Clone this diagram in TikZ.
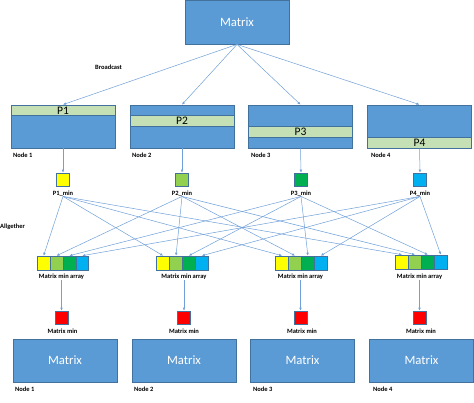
\documentclass[tikz,border=0pt]{standalone}
\usepackage{fontspec}
\setmainfont{Carlito}
\usepackage{tikz}
\usetikzlibrary{arrows.meta}
\definecolor{boxblue}{HTML}{5B9BD5}
\definecolor{boxedge}{HTML}{41719C}
\definecolor{bandgreen}{HTML}{C5E0B4}
\definecolor{linkblue}{HTML}{6FA0D8}
\definecolor{minyellow}{HTML}{FFFF00}
\definecolor{minlgreen}{HTML}{92D050}
\definecolor{mingreen}{HTML}{00B050}
\definecolor{minblue}{HTML}{00B0F0}
\definecolor{minred}{HTML}{FF0000}
\newcommand{\arw}{-{Latex[length=3pt,width=2.6pt]}}

\begin{document}
\begin{tikzpicture}[x=1pt,y=-1pt,
  mbox/.style={draw=boxedge,fill=boxblue,line width=.8pt,minimum width=104pt,minimum height=43pt,inner sep=0pt,text=white,font=\fontsize{12.7}{14}\selectfont},
  band/.style={draw=boxedge,fill=bandgreen,line width=.6pt,minimum width=104pt,minimum height=10.75pt,inner sep=0pt,font=\fontsize{11.5}{12}\selectfont},
  cell/.style={draw=boxedge,line width=.6pt,minimum width=12.9pt,minimum height=14pt,inner sep=0pt},
  tag/.style={font=\fontsize{6.5}{7}\selectfont\bfseries,inner sep=0pt},
  link/.style={draw=linkblue,line width=.5pt}]
\useasboundingbox (0,0) rectangle (474,403);
%broadcast
\node[mbox,minimum height=44pt] (mtop) at (237,22) {Matrix};
\node[tag,anchor=west] (bc) at (95,67) {Broadcast};
\node[mbox] (n1) at (63,126.5) {};
\node[mbox] (n2) at (182,126.5) {};
\node[mbox] (n3) at (300.5,126.5) {};
\node[mbox] (n4) at (419.5,126.5) {};
\node[band] (p1) at (63,110.4) {P1};
\node[band] (p2) at (182,121.1) {P2};
\node[band] (p3) at (300.5,131.9) {P3};
\node[band] (p4) at (419.5,142.6) {P4};
\node[tag,anchor=west] (k1) at (13,155.5) {Node 1};
\node[tag,anchor=west] (k2) at (132,155.5) {Node 2};
\node[tag,anchor=west] (k3) at (251,155.5) {Node 3};
\node[tag,anchor=west] (k4) at (371,155.5) {Node 4};
\draw[link,\arw] (mtop.south) -- (n1.north);
\draw[link,\arw] (mtop.south) -- (n2.north);
\draw[link,\arw] (mtop.south) -- (n3.north);
\draw[link,\arw] (mtop.south) -- (n4.north);
%local minimum
\node[cell,fill=minyellow,minimum height=13pt] (s1) at (63,179.5) {};
\node[cell,fill=minlgreen,minimum height=13pt] (s2) at (182,179.5) {};
\node[cell,fill=mingreen,minimum height=13pt] (s3) at (301,179.5) {};
\node[cell,fill=minblue,minimum height=13pt] (s4) at (420,179.5) {};
\node[tag] (l1) at (63,193.5) {P1\_min};
\node[tag] (l2) at (182,193.5) {P2\_min};
\node[tag] (l3) at (301,193.5) {P3\_min};
\node[tag] (l4) at (420,193.5) {P4\_min};
\draw[link,\arw] (n1.south) -- (s1.north);
\draw[link,\arw] (n2.south) -- (s2.north);
\draw[link,\arw] (n3.south) -- (s3.north);
\draw[link,\arw] (n4.south) -- (s4.north);
%allgather
\node[tag,anchor=west] (ag) at (0,227) {Allgether};
\node[cell,fill=minyellow] (c11) at (43.6,263) {};
\node[cell,fill=minlgreen] (c12) at (56.5,263) {};
\node[cell,fill=mingreen] (c13) at (69.4,263) {};
\node[cell,fill=minblue] (c14) at (82.3,263) {};
\node[cell,fill=minyellow] (c21) at (163.1,263) {};
\node[cell,fill=minlgreen] (c22) at (176,263) {};
\node[cell,fill=mingreen] (c23) at (188.9,263) {};
\node[cell,fill=minblue] (c24) at (201.8,263) {};
\node[cell,fill=minyellow] (c31) at (282.1,263) {};
\node[cell,fill=minlgreen] (c32) at (295,263) {};
\node[cell,fill=mingreen] (c33) at (307.9,263) {};
\node[cell,fill=minblue] (c34) at (320.8,263) {};
\node[cell,fill=minyellow] (c41) at (402.1,262) {};
\node[cell,fill=minlgreen] (c42) at (415,262) {};
\node[cell,fill=mingreen] (c43) at (427.9,262) {};
\node[cell,fill=minblue] (c44) at (440.8,262) {};
\draw[link,\arw] (l1.south) -- (c11.north);
\draw[link,\arw] (l1.south) -- (c21.north);
\draw[link,\arw] (l1.south) -- (c31.north);
\draw[link,\arw] (l1.south) -- (c41.north);
\draw[link,\arw] (l2.south) -- (c12.north);
\draw[link,\arw] (l2.south) -- (c22.north);
\draw[link,\arw] (l2.south) -- (c32.north);
\draw[link,\arw] (l2.south) -- (c42.north);
\draw[link,\arw] (l3.south) -- (c13.north);
\draw[link,\arw] (l3.south) -- (c23.north);
\draw[link,\arw] (l3.south) -- (c33.north);
\draw[link,\arw] (l3.south) -- (c43.north);
\draw[link,\arw] (l4.south) -- (c14.north);
\draw[link,\arw] (l4.south) -- (c24.north);
\draw[link,\arw] (l4.south) -- (c34.north);
\draw[link,\arw] (l4.south) -- (c44.north);
\node[tag] (m1) at (61.5,277) {Matrix min array};
\node[tag] (m2) at (184,277) {Matrix min array};
\node[tag] (m3) at (300.5,277) {Matrix min array};
\node[tag] (m4) at (419.5,277) {Matrix min array};
%global minimum
\node[cell,fill=minred,minimum height=13pt] (r1) at (61.5,317.5) {};
\node[cell,fill=minred,minimum height=13pt] (r2) at (184,317.5) {};
\node[cell,fill=minred,minimum height=13pt] (r3) at (300.5,317.5) {};
\node[cell,fill=minred,minimum height=13pt] (r4) at (419.5,317.5) {};
\draw[link,\arw] (m1.south) -- (r1.north);
\draw[link,\arw] (m2.south) -- (r2.north);
\draw[link,\arw] (m3.south) -- (r3.north);
\draw[link,\arw] (m4.south) -- (r4.north);
\node[tag] (g1) at (62.5,331.5) {Matrix min};
\node[tag] (g2) at (184,331.5) {Matrix min};
\node[tag] (g3) at (302,331.5) {Matrix min};
\node[tag] (g4) at (421,331.5) {Matrix min};
\node[mbox] (b1) at (65,360.5) {Matrix};
\node[mbox] (b2) at (184,360.5) {Matrix};
\node[mbox] (b3) at (302.5,360.5) {Matrix};
\node[mbox] (b4) at (421.5,360.5) {Matrix};
\node[tag,anchor=west] (e1) at (15,389) {Node 1};
\node[tag,anchor=west] (e2) at (134,389) {Node 2};
\node[tag,anchor=west] (e3) at (253,389) {Node 3};
\node[tag,anchor=west] (e4) at (373,389) {Node 4};
\end{tikzpicture}
\end{document}
